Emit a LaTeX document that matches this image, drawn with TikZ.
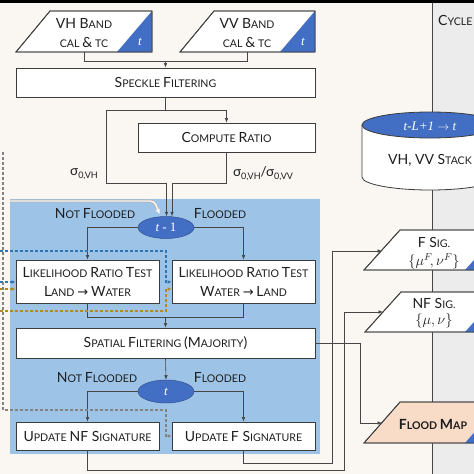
\documentclass[tikz,border=0pt]{standalone}
\usepackage{fontspec}
\setmainfont{Lato}
\newfontfamily\serif{Liberation Serif}
\newfontfamily\djv{DejaVu Sans}
\usetikzlibrary{arrows.meta,shapes.geometric,calc}
\definecolor{bgc}{RGB}{250,246,242}
\definecolor{grayc}{RGB}{236,236,236}
\definecolor{lblue}{RGB}{157,195,230}
\definecolor{dblue}{RGB}{66,110,196}
\definecolor{lineg}{RGB}{70,70,70}
\definecolor{boxg}{RGB}{60,60,60}
\definecolor{txt}{RGB}{30,30,30}
\definecolor{peach}{RGB}{248,220,200}
\definecolor{dashb}{RGB}{46,117,182}
\definecolor{dasho}{RGB}{176,140,30}
\definecolor{dashg}{RGB}{130,130,130}
\newcommand\Bg[1]{{\fontsize{14}{19}\selectfont #1}}
\newcommand\Sm[1]{{\fontsize{10.6}{19}\selectfont #1}}
\newcommand\Ar{{\djv\fontsize{13}{19}\selectfont →}}
\newcommand\sigl[1]{{\fontsize{13.5}{15}\selectfont σ}\raisebox{-3pt}{\fontsize{9}{10}\selectfont #1}}
\begin{document}
\begin{tikzpicture}[x=1pt,y=-1pt,
  conn/.style={draw=lineg, line width=0.6pt},
  arr/.style={conn, -{Latex[length=4.5pt,width=3.6pt]}},
  box/.style={draw=boxg, line width=0.8pt, fill=white, rectangle, inner sep=0pt, align=center, text=txt, font={\fontsize{11}{19}\selectfont}},
  ghost/.style={rectangle, inner sep=0pt, align=center, text=txt, font={\fontsize{11}{19}\selectfont}},
  ell/.style={ellipse, fill=dblue, draw=dblue!75!black, line width=0.5pt, inner sep=0pt, text=white},
  lab/.style={inner sep=0pt, text=txt, font={\fontsize{11}{19}\selectfont}},
  shp/.style={draw=boxg, line width=0.8pt},
  tri/.style={fill=dblue},
  dsh/.style={dashed, dash pattern=on 3pt off 2pt, line width=1.1pt},
  darr/.style={dsh, -{Latex[length=4pt,width=3.8pt]}}]
\useasboundingbox (0,0) rectangle (474,474);
\begin{scope}
\clip (0,0) rectangle (474,474);
% backgrounds
\fill[bgc] (0,0) rectangle (474,474);
\fill[grayc] (432,0) rectangle (474,474);
\fill[black] (0,0) rectangle (474,3);
\draw[lineg, line width=0.8pt] (432,3) -- (432,474);
\fill[lblue] (10,199) rectangle (320,454);
\node[lab, anchor=west] (cyc) at (438,20) {\Bg{C}\Sm{YCLE}};

% input parallelograms
\draw[shp, fill=white] (16,52) -- (50,11) -- (152,11) -- (152,52) -- cycle;
\fill[tri] (117,52) -- (152,11) -- (152,52) -- cycle;
\draw[shp] (16,52) -- (50,11) -- (152,11) -- (152,52) -- cycle;
\node[ghost, minimum width=136pt, minimum height=41pt] (vh) at (84,31.5) {};
\node[lab] (vht) at (84,23) {\Bg{VH B}\Sm{AND}};
\node[lab] (vhb) at (84,42) {\Sm{CAL} \Bg{\&} \Sm{TC}};
\node[lab, text=white] (vhtt) at (140,42) {\serif\fontsize{13}{13}\selectfont\itshape t};

\draw[shp, fill=white] (180,52) -- (214,11) -- (315,11) -- (315,52) -- cycle;
\fill[tri] (280,52) -- (315,11) -- (315,52) -- cycle;
\draw[shp] (180,52) -- (214,11) -- (315,11) -- (315,52) -- cycle;
\node[ghost, minimum width=135pt, minimum height=41pt] (vv) at (247.5,31.5) {};
\node[lab] (vvt) at (247,23) {\Bg{VV B}\Sm{AND}};
\node[lab] (vvb) at (247,42) {\Sm{CAL} \Bg{\&} \Sm{TC}};
\node[lab, text=white] (vvtt) at (303,42) {\serif\fontsize{13}{13}\selectfont\itshape t};

% cylinder
\draw[shp, fill=white] (362,125) -- (362,177) arc[start angle=180, end angle=360, x radius=68, y radius=-13] -- (498,125);
\draw[shp, fill=dblue] (430,125) ellipse [x radius=68, y radius=13];
\node[lab, text=white] (cyt) at (430,126) {\serif\fontsize{13}{13}\selectfont\itshape t-L+1 $\rightarrow$ t};
\node[lab] (cyl) at (430,160) {\Bg{VH, VV S}\Sm{TACK}};

% output shapes
\draw[shp, fill=white] (364,270) -- (400,230) -- (501,230) -- (501,270) -- cycle;
\fill[tri] (465,270) -- (501,230) -- (501,270) -- cycle;
\draw[shp] (364,270) -- (400,230) -- (501,230) -- (501,270) -- cycle;
\node[lab] (fs1) at (434,242) {\Bg{F S}\Sm{IG.}};
\node[lab] (fs2) at (434,261) {\fontsize{14}{16}\selectfont$\{\mu^F\!,\nu^F\}$};
\coordinate (fsin) at (382,251);

\draw[shp, fill=white] (365,332) -- (401,292) -- (501,292) -- (501,332) -- cycle;
\fill[tri] (465,332) -- (501,292) -- (501,332) -- cycle;
\draw[shp] (365,332) -- (401,292) -- (501,292) -- (501,332) -- cycle;
\node[lab] (nf1) at (434,303) {\Bg{NF S}\Sm{IG.}};
\node[lab] (nf2) at (434,321) {\fontsize{14}{16}\selectfont$\{\mu,\nu\}$};
\coordinate (nfin) at (383,312);

\draw[shp, fill=peach] (364,443) -- (400,402) -- (501,402) -- (501,443) -- cycle;
\fill[tri] (465,443) -- (501,402) -- (501,443) -- cycle;
\draw[shp] (364,443) -- (400,402) -- (501,402) -- (501,443) -- cycle;
\node[lab, font={\bfseries\fontsize{11}{19}\selectfont}] (fm) at (433,424) {\Bg{F}\Sm{LOOD} \Bg{M}\Sm{AP}};
\coordinate (fmin) at (382,423);

% process boxes
\node[box, minimum width=299pt, minimum height=29pt] (speckle) at (165.5,82.5) {\Bg{S}\Sm{PECKLE} \Bg{F}\Sm{ILTERING}};
\node[box, minimum width=177pt, minimum height=29pt] (ratio) at (226.5,137.5) {\Bg{C}\Sm{OMPUTE} \Bg{R}\Sm{ATIO}};
\node[ell, minimum width=56pt, minimum height=22pt] (t1) at (166,227.5) {\serif\fontsize{13}{13}\selectfont\itshape t \upshape - 1};
\node[box, minimum width=143pt, minimum height=43pt] (lrt1) at (87.5,281.5) {\Bg{L}\Sm{IKELIHOOD} \Bg{R}\Sm{ATIO} \Bg{T}\Sm{EST}\\\Bg{L}\Sm{AND} \Ar{} \Bg{W}\Sm{ATER}};
\node[box, minimum width=143pt, minimum height=43pt] (lrt2) at (243.5,281.5) {\Bg{L}\Sm{IKELIHOOD} \Bg{R}\Sm{ATIO} \Bg{T}\Sm{EST}\\\Bg{W}\Sm{ATER} \Ar{} \Bg{L}\Sm{AND}};
\node[box, minimum width=299pt, minimum height=30pt] (spatial) at (165.5,343) {\Bg{S}\Sm{PATIAL} \Bg{F}\Sm{ILTERING} \Bg{(M}\Sm{AJORITY}\Bg{)}};
\node[ell, minimum width=56pt, minimum height=23pt] (tt) at (166,391.5) {\serif\fontsize{13}{13}\selectfont\itshape t};
\node[box, minimum width=143pt, minimum height=28pt] (unf) at (87.5,436) {\Bg{U}\Sm{PDATE} \Bg{NF S}\Sm{IGNATURE}};
\node[box, minimum width=143pt, minimum height=28pt] (uf) at (243.5,436) {\Bg{U}\Sm{PDATE} \Bg{F S}\Sm{IGNATURE}};

% labels
\node[lab] (svh) at (84,174) {\sigl{0,VH}};
\node[lab] (sratio) at (263,174) {\sigl{0,VH}{\fontsize{13.5}{15}\selectfont /}\sigl{0,VV}};
\node[lab] (nfl1) at (95,214) {\Bg{N}\Sm{OT} \Bg{F}\Sm{LOODED}};
\node[lab] (fl1) at (220,214) {\Bg{F}\Sm{LOODED}};
\node[lab] (nfl2) at (97,378) {\Bg{N}\Sm{OT} \Bg{F}\Sm{LOODED}};
\node[lab] (fl2) at (220,378) {\Bg{F}\Sm{LOODED}};

% coordinates
\coordinate (j1) at (165.5,61);
\coordinate (j2) at (165.5,110);
\coordinate (cvh) at (106,183);
\coordinate (j3) at (165.5,317);

% connectors
\draw[conn] (vh.south) |- (j1);
\draw[conn] (vv.south) |- (j1);
\draw[arr] (j1) -- (speckle.north);
\draw[conn] (speckle.south) -- (j2);
\draw[arr] (j2) -| (ratio.north);
\draw[arr] (j2) -| (cvh) -| ([xshift=0.5pt]t1.north);
\draw[arr] (ratio.south) -- ++(0,31) -| ([xshift=6pt]t1.north);
\draw[arr] (t1.west) -| (lrt1.north);
\draw[arr] (t1.east) -| (lrt2.north);
\draw[conn] (lrt1.south) |- (j3);
\draw[conn] (lrt2.south) |- (j3);
\draw[arr] (j3) -- (spatial.north);
\draw[arr] (spatial.south) -- (tt.north);
\draw[arr] (tt.west) -| (unf.north);
\draw[arr] (tt.east) -| (uf.north);
\draw[arr] (unf.south) -- ++(0,20) -| (344,312) -- (nfin);
\draw[arr] (uf.south) -- ++(0,13) -| (332,251) -- (fsin);
\draw[arr] (spatial.east) -| (360,423) -- (fmin);

% dashed feedback lines
\draw[darr, dashb] (0,282) -- (lrt1.west |- 0,282);
\draw[darr, dasho] (0,289) -- (lrt1.west |- 0,289);
\draw[darr, dashb] (0,251) -| (166,282) -- (lrt2.west |- 0,282);
\draw[darr, dasho] (0,311) -| (166,289) -- (lrt2.west |- 0,289);
\draw[darr, dashg] (3,152) -- (3,410) -| (166,436) -- (uf.west);
% light arrow into t-1
\draw[line width=2.8pt, draw=dashg!60] (10,201) -- (150,201) to[out=0,in=120] (158,211);
\draw[line width=1.4pt, draw=bgc, -{Latex[length=5pt,width=5pt]}] (10,201) -- (150,201) to[out=0,in=120] (160,214);
\end{scope}
\end{tikzpicture}
\end{document}
